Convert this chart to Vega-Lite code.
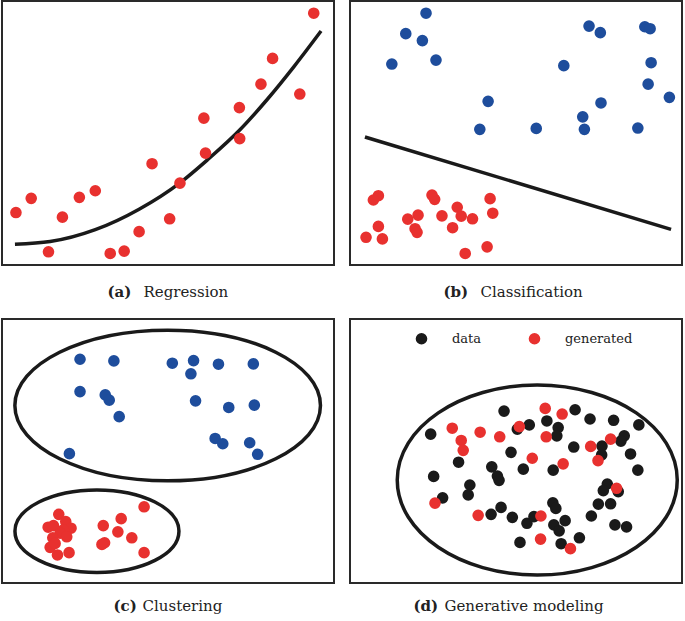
{
  "$schema": "https://vega.github.io/schema/vega-lite/v6.json",
  "padding": {"left": 1, "top": 0, "right": 1, "bottom": 1},
  "background": "white",
  "config": {
    "view": {"stroke": "#2a2a2a", "strokeWidth": 2}
  },
  "datasets": {
    "regPoints": [
      {"x": 4.2, "y": 15.9}, {"x": 8.8, "y": 20.2}, {"x": 14.0, "y": 4.0}, {"x": 18.2, "y": 14.5},
      {"x": 23.3, "y": 20.5}, {"x": 28.1, "y": 22.5}, {"x": 32.6, "y": 3.5}, {"x": 36.8, "y": 4.2},
      {"x": 41.3, "y": 10.1}, {"x": 45.2, "y": 30.7}, {"x": 50.5, "y": 14.0}, {"x": 53.6, "y": 24.8},
      {"x": 60.8, "y": 44.5}, {"x": 61.3, "y": 33.9}, {"x": 71.5, "y": 47.7}, {"x": 71.6, "y": 38.3},
      {"x": 78.0, "y": 54.8}, {"x": 81.5, "y": 62.6}, {"x": 89.7, "y": 51.8}, {"x": 93.9, "y": 76.3}
    ],
    "regCurve": [
      {"x": 3.9, "y": 6.3}, {"x": 14.5, "y": 7.1}, {"x": 28.1, "y": 10.7}, {"x": 41.3, "y": 16.9},
      {"x": 53.6, "y": 24.9}, {"x": 61.8, "y": 31.8}, {"x": 71.6, "y": 40.9}, {"x": 80.0, "y": 50.3},
      {"x": 88.0, "y": 60.2}, {"x": 96.1, "y": 70.9}
    ],
    "clsPoints": [
      {"x": 22.9, "y": 76.3, "cls": "A"}, {"x": 16.8, "y": 70.1, "cls": "A"}, {"x": 21.8, "y": 68.0, "cls": "A"},
      {"x": 12.6, "y": 60.9, "cls": "A"}, {"x": 25.9, "y": 62.1, "cls": "A"}, {"x": 41.6, "y": 49.6, "cls": "A"},
      {"x": 39.1, "y": 41.1, "cls": "A"}, {"x": 56.1, "y": 41.4, "cls": "A"}, {"x": 64.4, "y": 60.4, "cls": "A"},
      {"x": 72.0, "y": 72.4, "cls": "A"}, {"x": 75.4, "y": 70.4, "cls": "A"}, {"x": 75.6, "y": 49.1, "cls": "A"},
      {"x": 70.1, "y": 44.9, "cls": "A"}, {"x": 70.6, "y": 41.1, "cls": "A"}, {"x": 86.7, "y": 41.5, "cls": "A"},
      {"x": 88.8, "y": 72.2, "cls": "A"}, {"x": 90.4, "y": 71.6, "cls": "A"}, {"x": 90.7, "y": 61.3, "cls": "A"},
      {"x": 89.8, "y": 54.8, "cls": "A"}, {"x": 96.2, "y": 50.8, "cls": "A"},
      {"x": 8.55, "y": 21.0, "cls": "B"}, {"x": 7.04, "y": 19.7, "cls": "B"}, {"x": 24.7, "y": 21.2, "cls": "B"},
      {"x": 25.5, "y": 19.9, "cls": "B"}, {"x": 42.2, "y": 20.1, "cls": "B"}, {"x": 43.0, "y": 15.7, "cls": "B"},
      {"x": 32.3, "y": 17.5, "cls": "B"}, {"x": 33.5, "y": 14.8, "cls": "B"}, {"x": 36.9, "y": 14.0, "cls": "B"},
      {"x": 27.7, "y": 14.9, "cls": "B"}, {"x": 20.5, "y": 15.1, "cls": "B"}, {"x": 17.4, "y": 13.9, "cls": "B"},
      {"x": 19.6, "y": 11.0, "cls": "B"}, {"x": 20.2, "y": 9.9, "cls": "B"}, {"x": 30.9, "y": 11.3, "cls": "B"},
      {"x": 8.55, "y": 11.7, "cls": "B"}, {"x": 4.83, "y": 8.4, "cls": "B"}, {"x": 9.76, "y": 7.9, "cls": "B"},
      {"x": 34.7, "y": 3.5, "cls": "B"}, {"x": 41.3, "y": 5.5, "cls": "B"}
    ],
    "clsLine": [{"x": 4.5, "y": 38.8}, {"x": 96.7, "y": 10.8}],
    "cluPoints": [
      {"x": 23.5, "y": 67.8, "grp": "A"}, {"x": 33.7, "y": 67.3, "grp": "A"}, {"x": 51.3, "y": 66.6, "grp": "A"},
      {"x": 57.7, "y": 67.4, "grp": "A"}, {"x": 56.9, "y": 63.4, "grp": "A"}, {"x": 65.2, "y": 66.3, "grp": "A"},
      {"x": 75.7, "y": 66.4, "grp": "A"}, {"x": 23.5, "y": 58.0, "grp": "A"}, {"x": 31.1, "y": 57.0, "grp": "A"},
      {"x": 32.3, "y": 55.4, "grp": "A"}, {"x": 35.3, "y": 50.4, "grp": "A"}, {"x": 58.3, "y": 55.2, "grp": "A"},
      {"x": 68.3, "y": 53.2, "grp": "A"}, {"x": 76.0, "y": 53.9, "grp": "A"}, {"x": 64.2, "y": 43.8, "grp": "A"},
      {"x": 66.5, "y": 42.2, "grp": "A"}, {"x": 74.6, "y": 42.5, "grp": "A"}, {"x": 77.0, "y": 39.0, "grp": "A"},
      {"x": 20.3, "y": 39.2, "grp": "A"},
      {"x": 42.8, "y": 23.1, "grp": "B"}, {"x": 35.9, "y": 19.5, "grp": "B"}, {"x": 30.5, "y": 17.4, "grp": "B"},
      {"x": 34.9, "y": 15.5, "grp": "B"}, {"x": 39.1, "y": 13.7, "grp": "B"}, {"x": 30.9, "y": 12.2, "grp": "B"},
      {"x": 30.1, "y": 11.7, "grp": "B"}, {"x": 42.8, "y": 9.2, "grp": "B"},
      {"x": 17.1, "y": 20.8, "grp": "B"}, {"x": 19.2, "y": 18.6, "grp": "B"}, {"x": 13.9, "y": 16.9, "grp": "B"},
      {"x": 15.5, "y": 17.4, "grp": "B"}, {"x": 20.8, "y": 16.6, "grp": "B"}, {"x": 18.5, "y": 16.1, "grp": "B"},
      {"x": 17.5, "y": 15.1, "grp": "B"}, {"x": 15.3, "y": 13.7, "grp": "B"}, {"x": 19.5, "y": 14.0, "grp": "B"},
      {"x": 14.5, "y": 10.8, "grp": "B"}, {"x": 16.7, "y": 8.5, "grp": "B"}, {"x": 20.2, "y": 9.2, "grp": "B"},
      {"x": 16.0, "y": 12.0, "grp": "B"}
    ],
    "cluEllipses": [
      {"x": 49.9, "y": 53.8, "cluster": "big"},
      {"x": 28.6, "y": 15.7, "cluster": "small"}
    ],
    "genPoints": [
      {"x": 24.3, "y": 45.1, "type": "data"}, {"x": 46.4, "y": 52.1, "type": "data"}, {"x": 54.0, "y": 47.9, "type": "data"},
      {"x": 50.4, "y": 46.6, "type": "data"}, {"x": 59.3, "y": 49.1, "type": "data"}, {"x": 62.7, "y": 47.1, "type": "data"},
      {"x": 62.3, "y": 44.6, "type": "data"}, {"x": 67.8, "y": 52.5, "type": "data"}, {"x": 72.3, "y": 49.7, "type": "data"},
      {"x": 79.4, "y": 49.3, "type": "data"}, {"x": 87.0, "y": 47.9, "type": "data"}, {"x": 82.6, "y": 44.6, "type": "data"},
      {"x": 81.6, "y": 43.0, "type": "data"}, {"x": 75.9, "y": 41.5, "type": "data"}, {"x": 75.8, "y": 38.8, "type": "data"},
      {"x": 67.4, "y": 41.2, "type": "data"}, {"x": 84.5, "y": 39.1, "type": "data"}, {"x": 86.7, "y": 34.2, "type": "data"},
      {"x": 48.5, "y": 39.6, "type": "data"}, {"x": 32.7, "y": 36.6, "type": "data"}, {"x": 42.7, "y": 35.2, "type": "data"},
      {"x": 44.4, "y": 32.4, "type": "data"}, {"x": 44.9, "y": 31.1, "type": "data"}, {"x": 52.2, "y": 34.5, "type": "data"},
      {"x": 61.2, "y": 34.2, "type": "data"}, {"x": 25.2, "y": 32.3, "type": "data"}, {"x": 36.1, "y": 29.7, "type": "data"},
      {"x": 35.6, "y": 26.7, "type": "data"}, {"x": 27.9, "y": 25.8, "type": "data"}, {"x": 77.5, "y": 30.0, "type": "data"},
      {"x": 76.3, "y": 28.0, "type": "data"}, {"x": 80.8, "y": 27.7, "type": "data"}, {"x": 74.8, "y": 23.9, "type": "data"},
      {"x": 78.5, "y": 24.0, "type": "data"}, {"x": 61.1, "y": 24.3, "type": "data"}, {"x": 62.0, "y": 22.6, "type": "data"},
      {"x": 45.5, "y": 22.9, "type": "data"}, {"x": 42.5, "y": 20.8, "type": "data"}, {"x": 48.9, "y": 19.9, "type": "data"},
      {"x": 53.3, "y": 18.1, "type": "data"}, {"x": 55.4, "y": 20.1, "type": "data"}, {"x": 64.8, "y": 18.9, "type": "data"},
      {"x": 61.4, "y": 17.6, "type": "data"}, {"x": 63.0, "y": 15.8, "type": "data"}, {"x": 72.7, "y": 20.3, "type": "data"},
      {"x": 79.8, "y": 17.6, "type": "data"}, {"x": 83.3, "y": 17.0, "type": "data"}, {"x": 51.2, "y": 12.3, "type": "data"},
      {"x": 63.6, "y": 11.9, "type": "data"}, {"x": 69.1, "y": 13.7, "type": "data"},
      {"x": 30.8, "y": 46.9, "type": "generated"}, {"x": 33.5, "y": 43.2, "type": "generated"}, {"x": 34.1, "y": 40.2, "type": "generated"},
      {"x": 39.2, "y": 45.7, "type": "generated"}, {"x": 45.1, "y": 44.3, "type": "generated"}, {"x": 51.0, "y": 47.4, "type": "generated"},
      {"x": 58.8, "y": 52.9, "type": "generated"}, {"x": 63.9, "y": 51.2, "type": "generated"}, {"x": 59.1, "y": 44.3, "type": "generated"},
      {"x": 54.9, "y": 37.8, "type": "generated"}, {"x": 64.2, "y": 36.1, "type": "generated"}, {"x": 72.5, "y": 41.4, "type": "generated"},
      {"x": 78.5, "y": 43.6, "type": "generated"}, {"x": 74.7, "y": 37.1, "type": "generated"}, {"x": 80.3, "y": 28.7, "type": "generated"},
      {"x": 25.6, "y": 24.2, "type": "generated"}, {"x": 38.6, "y": 20.5, "type": "generated"}, {"x": 57.5, "y": 20.3, "type": "generated"},
      {"x": 57.4, "y": 13.3, "type": "generated"}, {"x": 66.4, "y": 10.4, "type": "generated"}
    ],
    "genEllipse": [{"x": 56.4, "y": 31.2}]
  },
  "concat": [
    {
      "width": 332, "height": 264,
      "encoding": {
        "x": {"field": "x", "type": "quantitative", "scale": {"domain": [0, 100], "nice": false, "zero": false},
              "axis": {"title": "Regression", "domain": false, "ticks": false, "labels": false, "grid": false, "titleX": 141, "titleY": 31, "titleAlign": "left", "titleBaseline": "alphabetic", "titleFont": "DejaVu Serif", "titleFontSize": 15, "titleFontWeight": "normal", "titleColor": "#222222", "titlePadding": 0}},
        "y": {"field": "y", "type": "quantitative", "scale": {"domain": [0, 80], "nice": false, "zero": false},
              "axis": {"title": "(a)", "domain": false, "ticks": false, "labels": false, "grid": false, "titleAngle": 0, "titleX": 105, "titleY": 295, "titleAlign": "left", "titleBaseline": "alphabetic", "titleFont": "DejaVu Serif", "titleFontSize": 15, "titleFontWeight": "bold", "titleColor": "#222222", "titlePadding": 0}}
      },
      "layer": [
        {"data": {"name": "regCurve"}, "mark": {"type": "line", "interpolate": "monotone", "color": "#1a1a1a", "strokeWidth": 3.5}, "encoding": {}},
        {"data": {"name": "regPoints"}, "mark": {"type": "circle", "size": 135, "opacity": 1, "color": "#e8312f"}, "encoding": {}}
      ]
    },
    {
      "width": 332, "height": 264,
      "encoding": {
        "x": {"field": "x", "type": "quantitative", "scale": {"domain": [0, 100], "nice": false, "zero": false},
              "axis": {"title": "Classification", "domain": false, "ticks": false, "labels": false, "grid": false, "titleX": 130, "titleY": 31, "titleAlign": "left", "titleBaseline": "alphabetic", "titleFont": "DejaVu Serif", "titleFontSize": 15, "titleFontWeight": "normal", "titleColor": "#222222", "titlePadding": 0}},
        "y": {"field": "y", "type": "quantitative", "scale": {"domain": [0, 80], "nice": false, "zero": false},
              "axis": {"title": "(b)", "domain": false, "ticks": false, "labels": false, "grid": false, "titleAngle": 0, "titleX": 93, "titleY": 295, "titleAlign": "left", "titleBaseline": "alphabetic", "titleFont": "DejaVu Serif", "titleFontSize": 15, "titleFontWeight": "bold", "titleColor": "#222222", "titlePadding": 0}}
      },
      "layer": [
        {"data": {"name": "clsLine"}, "mark": {"type": "line", "color": "#1a1a1a", "strokeWidth": 3.5}, "encoding": {}},
        {"data": {"name": "clsPoints"}, "mark": {"type": "circle", "size": 135, "opacity": 1},
         "encoding": {"color": {"field": "cls", "type": "nominal", "scale": {"domain": ["A", "B"], "range": ["#1e4d9c", "#e8312f"]}, "legend": null}}}
      ]
    },
    {
      "width": 332, "height": 264,
      "encoding": {
        "x": {"field": "x", "type": "quantitative", "scale": {"domain": [0, 100], "nice": false, "zero": false},
              "axis": {"title": "Clustering", "domain": false, "ticks": false, "labels": false, "grid": false, "titleX": 140, "titleY": 27, "titleAlign": "left", "titleBaseline": "alphabetic", "titleFont": "DejaVu Serif", "titleFontSize": 15, "titleFontWeight": "normal", "titleColor": "#222222", "titlePadding": 0}},
        "y": {"field": "y", "type": "quantitative", "scale": {"domain": [0, 80], "nice": false, "zero": false},
              "axis": {"title": "(c)", "domain": false, "ticks": false, "labels": false, "grid": false, "titleAngle": 0, "titleX": 111, "titleY": 291, "titleAlign": "left", "titleBaseline": "alphabetic", "titleFont": "DejaVu Serif", "titleFontSize": 15, "titleFontWeight": "bold", "titleColor": "#222222", "titlePadding": 0}}
      },
      "layer": [
        {"data": {"name": "cluEllipses"}, "transform": [{"filter": "datum.cluster === 'big'"}],
         "mark": {"type": "point", "shape": "M -1 0 C -1 -0.2722 -0.5523 -0.4928 0 -0.4928 C 0.5523 -0.4928 1 -0.2722 1 0 C 1 0.2722 0.5523 0.4928 0 0.4928 C -0.5523 0.4928 -1 0.2722 -1 0 Z", "size": 93391, "filled": false, "stroke": "#1a1a1a", "strokeWidth": 3.5, "opacity": 1}, "encoding": {}},
        {"data": {"name": "cluEllipses"}, "transform": [{"filter": "datum.cluster === 'small'"}],
         "mark": {"type": "point", "shape": "M -1 0 C -1 -0.2775 -0.5523 -0.5024 0 -0.5024 C 0.5523 -0.5024 1 -0.2775 1 0 C 1 0.2775 0.5523 0.5024 0 0.5024 C -0.5523 0.5024 -1 0.2775 -1 0 Z", "size": 26896, "filled": false, "stroke": "#1a1a1a", "strokeWidth": 3.5, "opacity": 1}, "encoding": {}},
        {"data": {"name": "cluPoints"}, "mark": {"type": "circle", "size": 135, "opacity": 1},
         "encoding": {"color": {"field": "grp", "type": "nominal", "scale": {"domain": ["A", "B"], "range": ["#1e4d9c", "#e8312f"]}, "legend": null}}}
      ]
    },
    {
      "width": 332, "height": 264,
      "encoding": {
        "x": {"field": "x", "type": "quantitative", "scale": {"domain": [0, 100], "nice": false, "zero": false},
              "axis": {"title": "Generative modeling", "domain": false, "ticks": false, "labels": false, "grid": false, "titleX": 94, "titleY": 27, "titleAlign": "left", "titleBaseline": "alphabetic", "titleFont": "DejaVu Serif", "titleFontSize": 15, "titleFontWeight": "normal", "titleColor": "#222222", "titlePadding": 0}},
        "y": {"field": "y", "type": "quantitative", "scale": {"domain": [0, 80], "nice": false, "zero": false},
              "axis": {"title": "(d)", "domain": false, "ticks": false, "labels": false, "grid": false, "titleAngle": 0, "titleX": 63, "titleY": 291, "titleAlign": "left", "titleBaseline": "alphabetic", "titleFont": "DejaVu Serif", "titleFontSize": 15, "titleFontWeight": "bold", "titleColor": "#222222", "titlePadding": 0}}
      },
      "layer": [
        {"data": {"name": "genEllipse"},
         "mark": {"type": "point", "shape": "M -1 0 C -1 -0.3748 -0.5523 -0.6786 0 -0.6786 C 0.5523 -0.6786 1 -0.3748 1 0 C 1 0.3748 0.5523 0.6786 0 0.6786 C -0.5523 0.6786 -1 0.3748 -1 0 Z", "size": 78400, "filled": false, "stroke": "#1a1a1a", "strokeWidth": 3.5, "opacity": 1}, "encoding": {}},
        {"data": {"name": "genPoints"}, "mark": {"type": "circle", "size": 135, "opacity": 1},
         "encoding": {"color": {"field": "type", "type": "nominal", "scale": {"domain": ["data", "generated"], "range": ["#1a1a1a", "#e8312f"]},
           "legend": {"orient": "none", "legendX": 65, "legendY": 13, "direction": "horizontal", "title": null, "symbolType": "circle", "symbolSize": 135, "symbolStrokeWidth": 0, "symbolOpacity": 1, "labelFont": "DejaVu Serif", "labelFontSize": 13, "labelColor": "#222222", "labelOffset": 24, "columnPadding": 46, "padding": 0}}}}
      ]
    }
  ],
  "columns": 2,
  "spacing": {"row": 54, "column": 16},
  "bounds": "flush",
  "resolve": {"scale": {"x": "independent", "y": "independent", "color": "independent"}}
}
